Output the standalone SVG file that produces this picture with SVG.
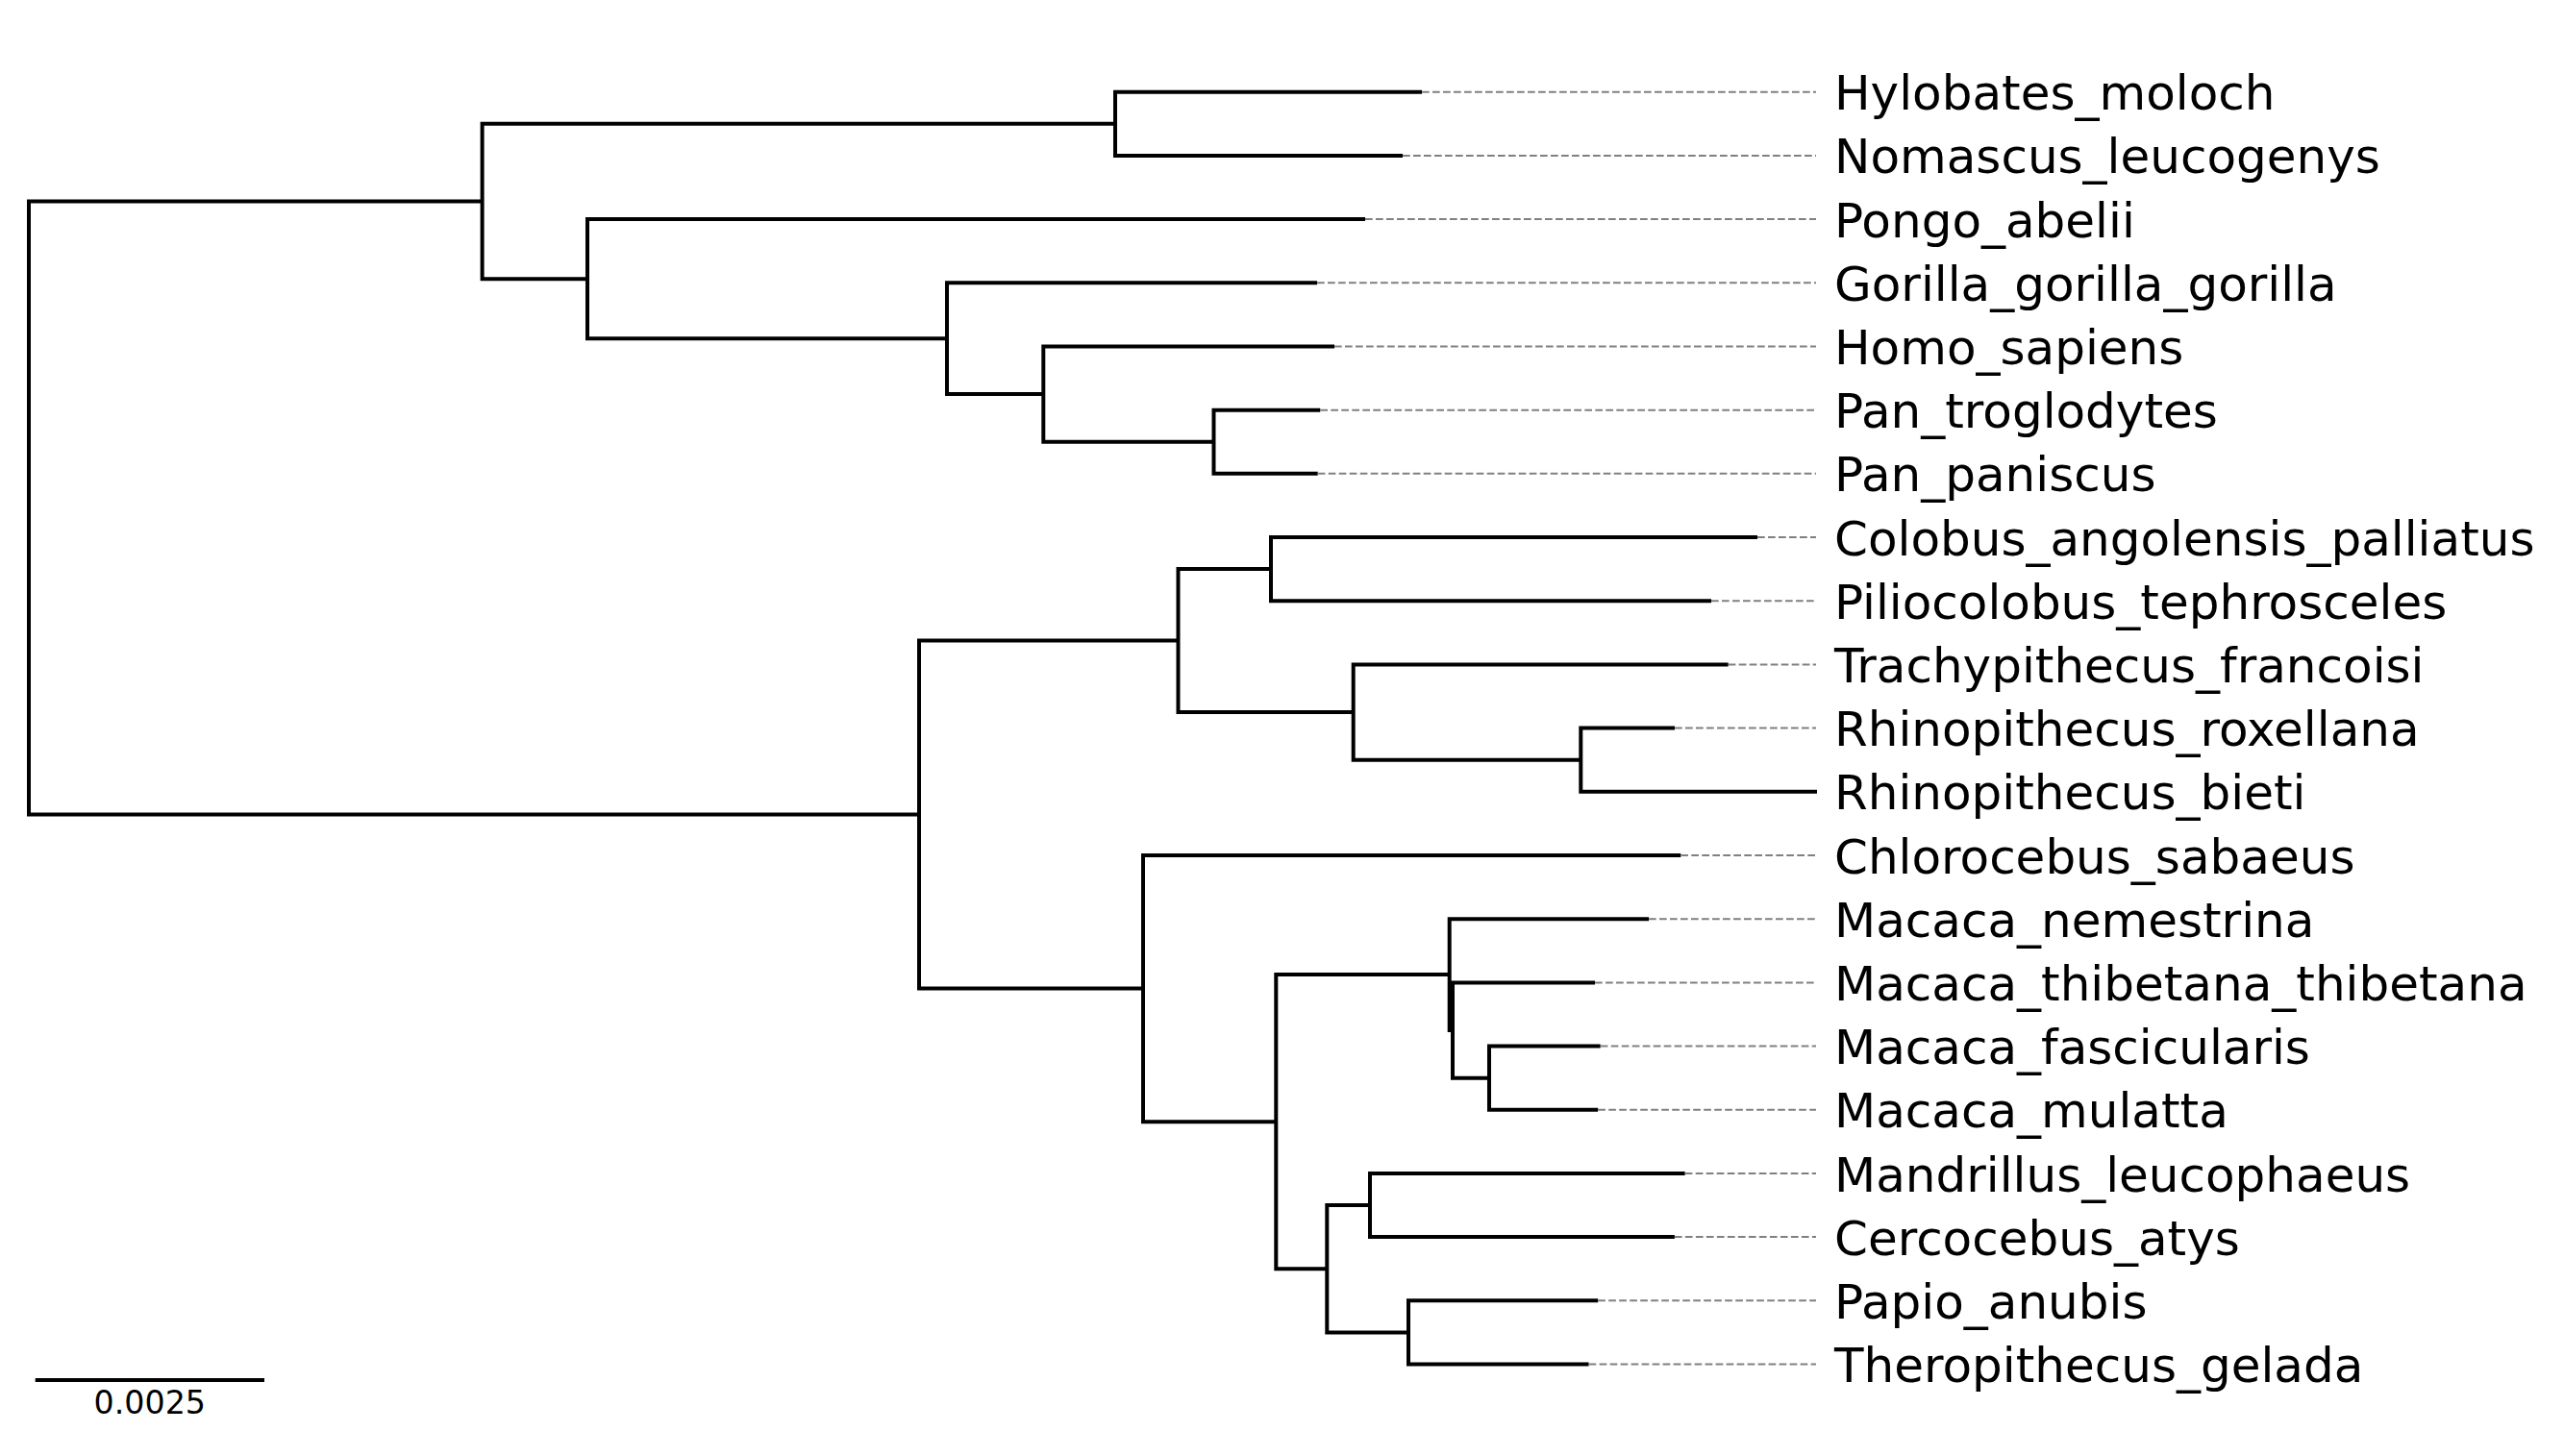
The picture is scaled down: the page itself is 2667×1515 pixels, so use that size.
<svg xmlns="http://www.w3.org/2000/svg" width="2667" height="1515" viewBox="0 0 2667 1515">
<style>
.br{fill:none;stroke:#000;stroke-width:4;stroke-linecap:butt;stroke-linejoin:miter}
.gd{fill:none;stroke:#808080;stroke-width:2;stroke-dasharray:7.7 3.3}
.lb{font-family:"DejaVu Sans",sans-serif;font-size:50px;fill:#000}
.sc{font-family:"DejaVu Sans",sans-serif;font-size:33.3px;fill:#000;text-anchor:middle}
</style>
<rect width="2667" height="1515" fill="#fff"/>
<g id="connectors">
<path class="br" d="M 501.6,209.5 H 30 V 847.6 H 956"/>
<path class="br" d="M 1160,128.8 H 501.6 V 290.15 H 611"/>
<path class="br" d="M 1479,95.7 H 1160 V 161.9 H 1459"/>
<path class="br" d="M 1420,228.1 H 611 V 352.2 H 985"/>
<path class="br" d="M 1370,294.3 H 985 V 410.1 H 1085.3"/>
<path class="br" d="M 1388,360.5 H 1085.3 V 459.75 H 1262.5"/>
<path class="br" d="M 1373.3,426.7 H 1262.5 V 492.8 H 1370.7"/>
<path class="br" d="M 1225.5,666.6 H 956 V 1028.6 H 1189"/>
<path class="br" d="M 1322,592.1 H 1225.5 V 741.05 H 1407.7"/>
<path class="br" d="M 1828,559 H 1322 V 625.2 H 1780"/>
<path class="br" d="M 1797.7,691.4 H 1407.7 V 790.7 H 1644.3"/>
<path class="br" d="M 1742,757.6 H 1644.3 V 823.8 H 1890"/>
<path class="br" d="M 1748.3,890 H 1189 V 1167.15 H 1327.3"/>
<path class="br" d="M 1507.7,1014.1 H 1327.3 V 1320.2 H 1380.3"/>
<path class="br" d="M 1715,956.2 H 1507.7 V 1072.05 H 1511"/>
<path class="br" d="M 1659,1022.4 H 1511 V 1121.7 H 1549"/>
<path class="br" d="M 1664.7,1088.6 H 1549 V 1154.8 H 1662.2"/>
<path class="br" d="M 1425,1254.05 H 1380.3 V 1386.4 H 1465"/>
<path class="br" d="M 1752.7,1221 H 1425 V 1287.1 H 1741.9"/>
<path class="br" d="M 1662.2,1353.3 H 1465 V 1419.5 H 1652.6"/>
<path class="gd" d="M 1479,95.7 H 1889"/>
<path class="gd" d="M 1459,161.9 H 1889"/>
<path class="gd" d="M 1420,228.1 H 1889"/>
<path class="gd" d="M 1370,294.3 H 1889"/>
<path class="gd" d="M 1388,360.5 H 1889"/>
<path class="gd" d="M 1373.3,426.7 H 1889"/>
<path class="gd" d="M 1370.7,492.8 H 1889"/>
<path class="gd" d="M 1828,559 H 1889"/>
<path class="gd" d="M 1780,625.2 H 1889"/>
<path class="gd" d="M 1797.7,691.4 H 1889"/>
<path class="gd" d="M 1742,757.6 H 1889"/>
<path class="gd" d="M 1748.3,890 H 1889"/>
<path class="gd" d="M 1715,956.2 H 1889"/>
<path class="gd" d="M 1659,1022.4 H 1889"/>
<path class="gd" d="M 1664.7,1088.6 H 1889"/>
<path class="gd" d="M 1662.2,1154.8 H 1889"/>
<path class="gd" d="M 1752.7,1221 H 1889"/>
<path class="gd" d="M 1741.9,1287.1 H 1889"/>
<path class="gd" d="M 1662.2,1353.3 H 1889"/>
<path class="gd" d="M 1652.6,1419.5 H 1889"/>
</g>
<g id="leaf-hylobates-moloch"><text class="lb" x="1908" y="114.2">Hylobates_moloch</text></g>
<g id="leaf-nomascus-leucogenys"><text class="lb" x="1908" y="180.4">Nomascus_leucogenys</text></g>
<g id="leaf-pongo-abelii"><text class="lb" x="1908" y="246.6">Pongo_abelii</text></g>
<g id="leaf-gorilla"><text class="lb" x="1908" y="312.8">Gorilla_gorilla_gorilla</text></g>
<g id="leaf-homo-sapiens"><text class="lb" x="1908" y="379">Homo_sapiens</text></g>
<g id="leaf-pan-troglodytes"><text class="lb" x="1908" y="445.2">Pan_troglodytes</text></g>
<g id="leaf-pan-paniscus"><text class="lb" x="1908" y="511.3">Pan_paniscus</text></g>
<g id="leaf-colobus"><text class="lb" x="1908" y="577.5">Colobus_angolensis_palliatus</text></g>
<g id="leaf-piliocolobus"><text class="lb" x="1908" y="643.7">Piliocolobus_tephrosceles</text></g>
<g id="leaf-trachypithecus"><text class="lb" x="1908" y="709.9">Trachypithecus_francoisi</text></g>
<g id="leaf-rhino-roxellana"><text class="lb" x="1908" y="776.1">Rhinopithecus_roxellana</text></g>
<g id="leaf-rhino-bieti"><text class="lb" x="1908" y="842.3">Rhinopithecus_bieti</text></g>
<g id="leaf-chlorocebus"><text class="lb" x="1908" y="908.5">Chlorocebus_sabaeus</text></g>
<g id="leaf-macaca-nemestrina"><text class="lb" x="1908" y="974.7">Macaca_nemestrina</text></g>
<g id="leaf-macaca-thibetana"><text class="lb" x="1908" y="1040.9">Macaca_thibetana_thibetana</text></g>
<g id="leaf-macaca-fascicularis"><text class="lb" x="1908" y="1107.1">Macaca_fascicularis</text></g>
<g id="leaf-macaca-mulatta"><text class="lb" x="1908" y="1173.3">Macaca_mulatta</text></g>
<g id="leaf-mandrillus"><text class="lb" x="1908" y="1239.5">Mandrillus_leucophaeus</text></g>
<g id="leaf-cercocebus"><text class="lb" x="1908" y="1305.6">Cercocebus_atys</text></g>
<g id="leaf-papio"><text class="lb" x="1908" y="1371.8">Papio_anubis</text></g>
<g id="leaf-theropithecus"><text class="lb" x="1908" y="1438">Theropithecus_gelada</text></g>
<g id="scale-bar">
<line x1="36.7" y1="1436" x2="275" y2="1436" stroke="#000" stroke-width="4"/>
<text class="sc" x="155.8" y="1471">0.0025</text>
</g>
</svg>
